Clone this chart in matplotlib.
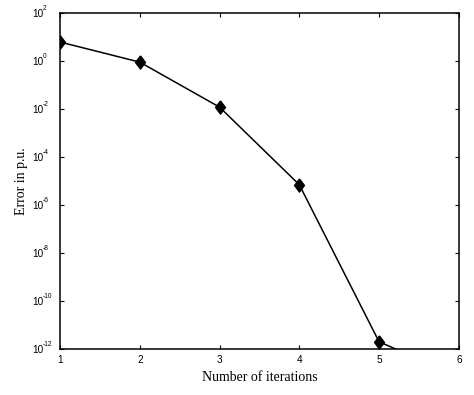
import matplotlib
matplotlib.use('Agg')
import matplotlib.pyplot as plt
import matplotlib.transforms as mtransforms

# values
iterations = [1, 2, 3, 4, 5, 6]
error_pu = [6.2, 0.9, 0.012, 7.0e-6, 2.0e-12, 7.0e-14]
yticks = [1e-12, 1e-10, 1e-8, 1e-6, 1e-4, 1e-2, 1e0, 1e2]
ytick_exps = ['-12', '-10', '-8', '-6', '-4', '-2', '0', '2']
xticks = [1, 2, 3, 4, 5, 6]

fig = plt.figure(figsize=(4.74, 3.95), dpi=100)
ax = fig.add_axes([0.1266, 0.1165, 0.8414, 0.8505])

# diamond marker, a bit wider than matplotlib's 'd'
diamond = [(0, 1), (0.75, 0), (0, -1), (-0.75, 0), (0, 1)]
ax.semilogy(iterations, error_pu, color='black', linewidth=1.1,
            marker=diamond, markersize=9.5, markerfacecolor='black',
            markeredgecolor='black')

ax.set_xlim(1, 6)
ax.set_ylim(1e-12, 1e2)
ax.set_xticks(xticks)
ax.set_xticklabels([str(x) for x in xticks], fontfamily='Liberation Sans', fontsize=7.2)
ax.set_yticks(yticks)
ax.set_yticklabels([])
ax.yaxis.set_minor_locator(matplotlib.ticker.NullLocator())

ax.tick_params(axis='both', direction='in', length=3, width=0.8,
               top=True, right=True, colors='black')
ax.tick_params(axis='x', pad=4.0)
for sp in ax.spines.values():
    sp.set_linewidth(1.1)

# MATLAB-style y tick labels: "10" left-aligned, small raised exponent
trans = mtransforms.blended_transform_factory(fig.transFigure, ax.transData)
for val, e in zip(yticks, ytick_exps):
    base = mtransforms.offset_copy(trans, fig=fig, x=0, y=-1, units='dots')
    ax.text(32.5 / 474, val, '10', transform=base, ha='left', va='center',
            fontfamily='Liberation Sans', fontsize=7.2, clip_on=False)
    sup = mtransforms.offset_copy(trans, fig=fig, x=0, y=3, units='dots')
    ax.text(42.5 / 474, val, e, transform=sup, ha='left', va='baseline',
            fontfamily='Liberation Sans', fontsize=4.8, clip_on=False)

ax.set_xlabel('Number of iterations', fontfamily='Liberation Serif', fontsize=10)
ax.set_ylabel('Error in p.u.', fontfamily='Liberation Serif', fontsize=10)
ax.xaxis.set_label_coords(0.5, -0.065)
ax.yaxis.set_label_coords(-0.08, 0.5)

fig.savefig('out.png', dpi=100)
